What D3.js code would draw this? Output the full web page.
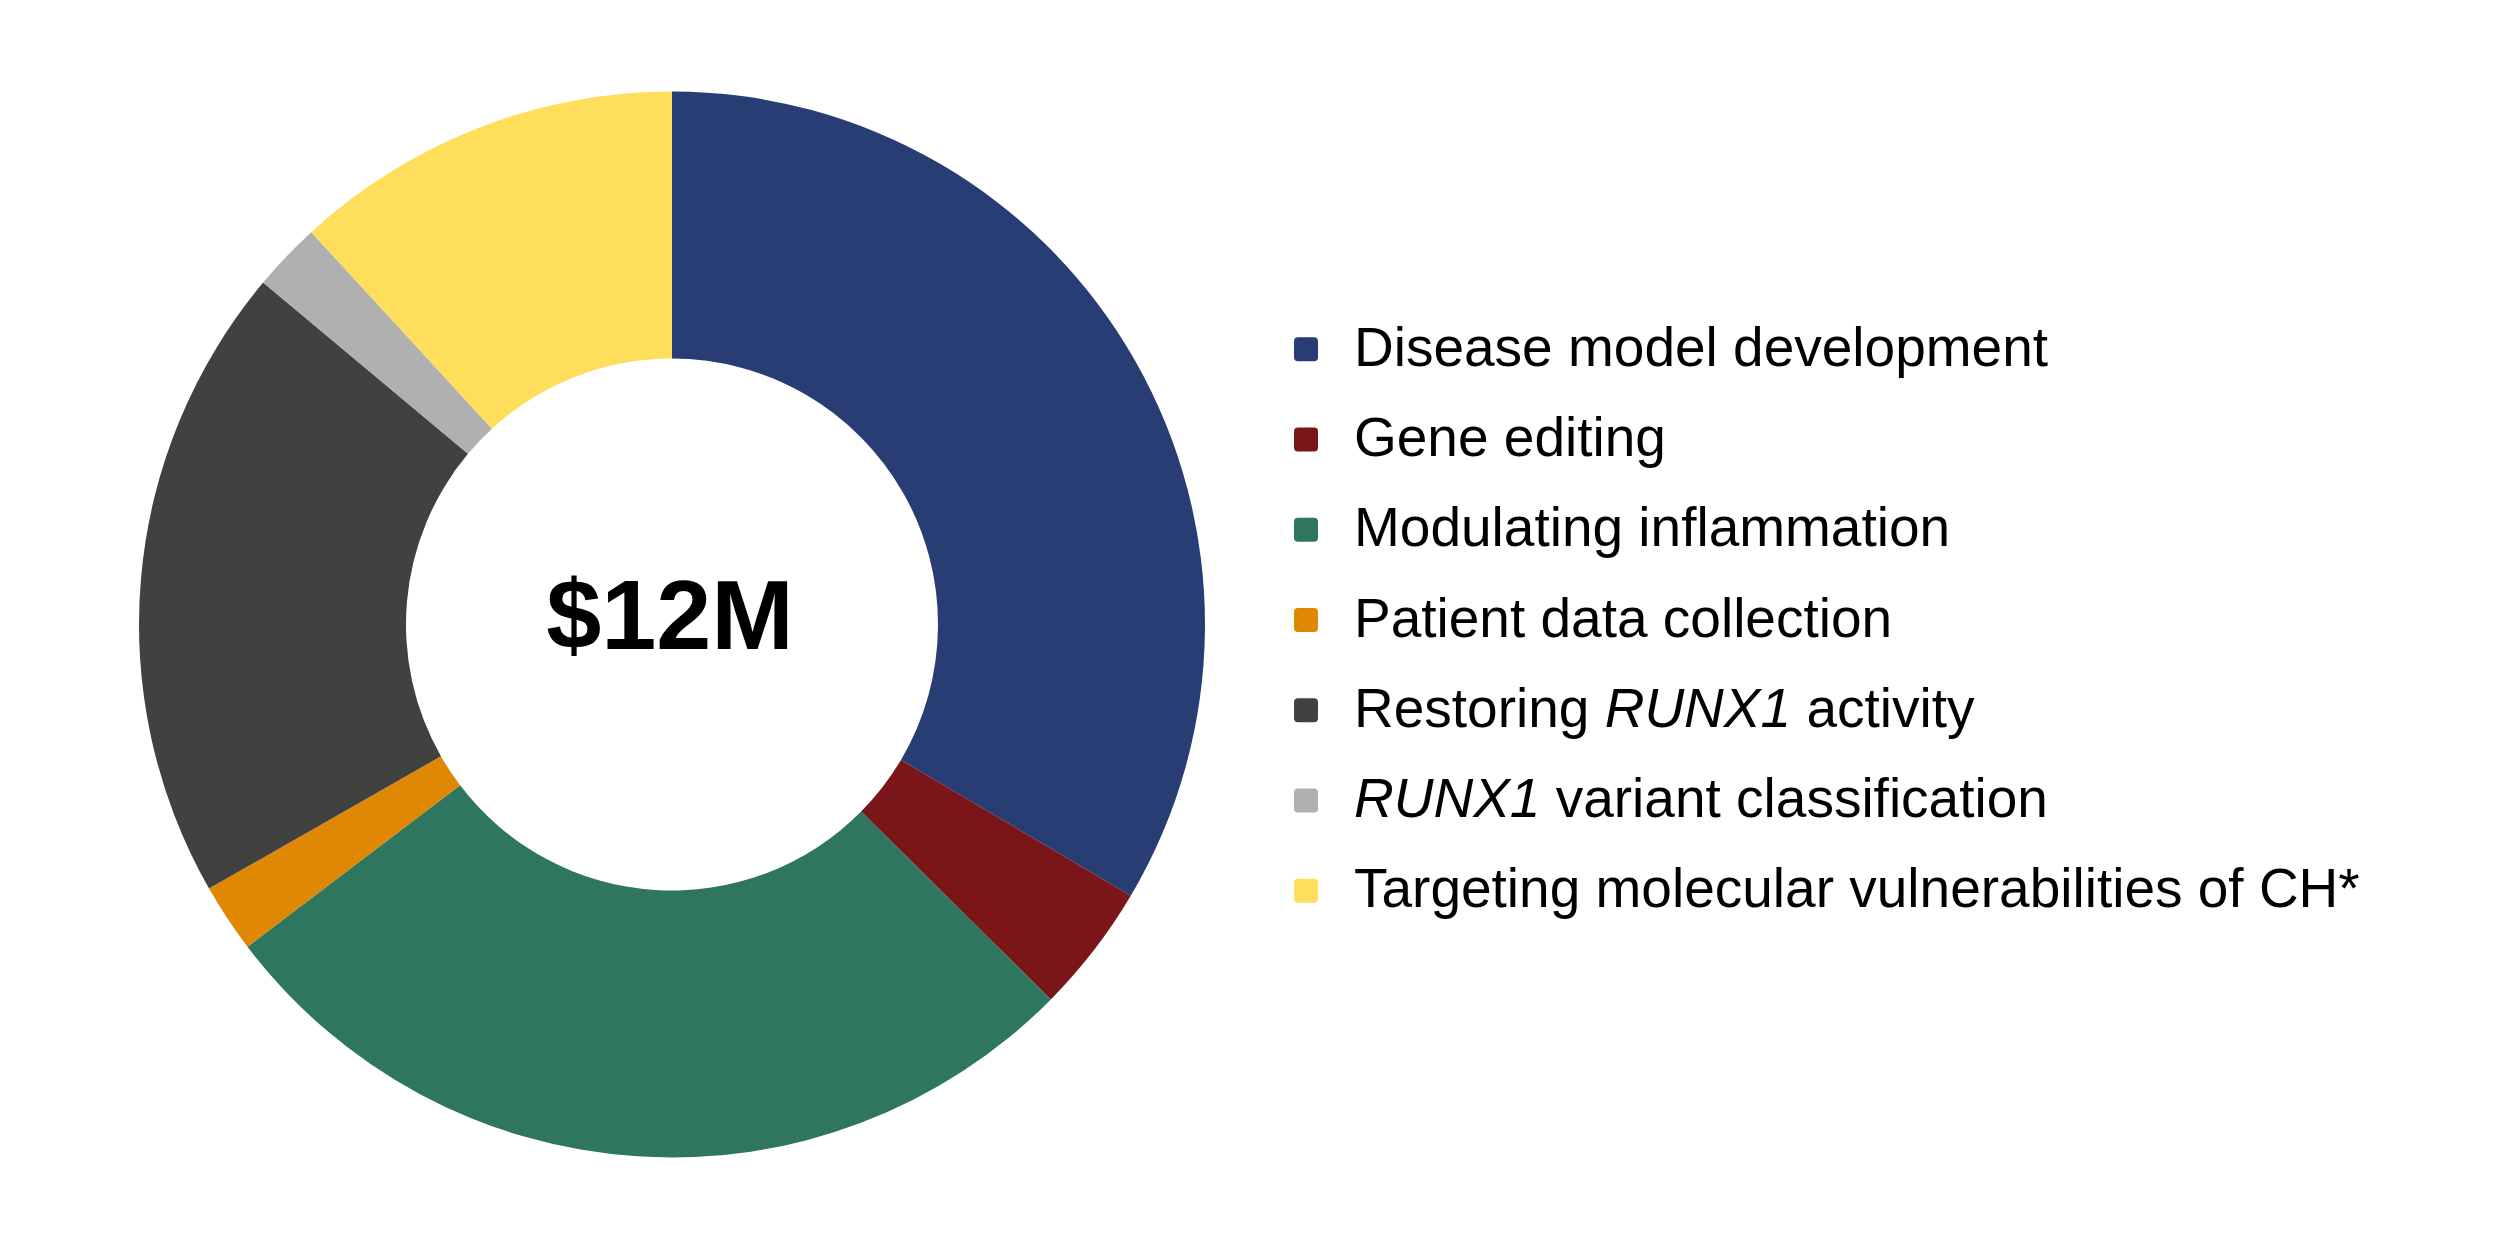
<!DOCTYPE html>
<html>
<head>
<meta charset="utf-8">
<script src="https://cdn.jsdelivr.net/npm/d3@7"></script>
<style>
  body { margin: 0; background: #ffffff; }
  svg  { display: block; font-family: "Liberation Sans", Arial, Helvetica, sans-serif; }
</style>
</head>
<body>
<div class="vis"></div>
<script>
// funding by area, $M
var categories = ["Disease model development", "Gene editing", "Modulating inflammation",
                  "Patient data collection", "Restoring RUNX1 activity",
                  "RUNX1 variant classification", "Targeting molecular vulnerabilities of CH*"];
var values     = [4.02, 0.47, 3.27, 0.25, 2.32, 0.25, 1.42];
var colors     = ["#283D73", "#7A1619", "#2E765F", "#E08804", "#41413F", "#B0B0B0", "#FEDE5B"];
var centerLabel = "$12M";

// legend text parts, italic gene name
var legendParts = [
    [["Disease model development", false]],
    [["Gene editing", false]],
    [["Modulating inflammation", false]],
    [["Patient data collection", false]],
    [["Restoring ", false], ["RUNX1", true], [" activity", false]],
    [["RUNX1", true], [" variant classification", false]],
    [["Targeting molecular vulnerabilities of CH*", false]]
];

var width = 2500, height = 1250;
var cx = 672, cy = 624.5;
var outerR = 533, innerR = 266;

var svg = d3.select("div.vis")
            .append("svg")
            .attr("width", width)
            .attr("height", height);

svg.append("rect").attr("width", width).attr("height", height).attr("fill", "#ffffff");

var pie = d3.pie().sort(null).value(function(d) { return d; });
var arc = d3.arc().innerRadius(innerR).outerRadius(outerR);

var donut = svg.append("g").attr("transform", "translate(" + cx + "," + cy + ")");

donut.selectAll("path")
     .data(pie(values))
     .enter()
     .append("path")
        .attr("d", arc)
        .attr("fill", function(d, i) { return colors[i]; });

donut.append("text")
     .text(centerLabel)
     .attr("text-anchor", "middle")
     .attr("x", -2)
     .attr("y", 24)
     .style("font-size", "99px")
     .style("font-weight", "bold")
     .style("fill", "#000000");

// legend
var rowY = d3.scalePoint().domain(categories).range([349.3, 890.7]);

var legend = svg.append("g");
var rows = legend.selectAll("g")
                 .data(categories)
                 .enter()
                 .append("g")
                 .attr("transform", function(d) { return "translate(0," + rowY(d) + ")"; });

rows.append("rect")
    .attr("x", 1294)
    .attr("y", -12)
    .attr("width", 24)
    .attr("height", 24)
    .attr("rx", 4)
    .attr("fill", function(d, i) { return colors[i]; });

rows.append("text")
    .attr("x", 1354)
    .attr("y", 16.5)
    .style("font-size", "55px")
    .style("fill", "#000000")
    .each(function(d, i) {
        var t = d3.select(this);
        legendParts[i].forEach(function(p) {
            t.append("tspan")
             .text(p[0])
             .style("font-style", p[1] ? "italic" : "normal");
        });
    });
</script>
</body>
</html>
